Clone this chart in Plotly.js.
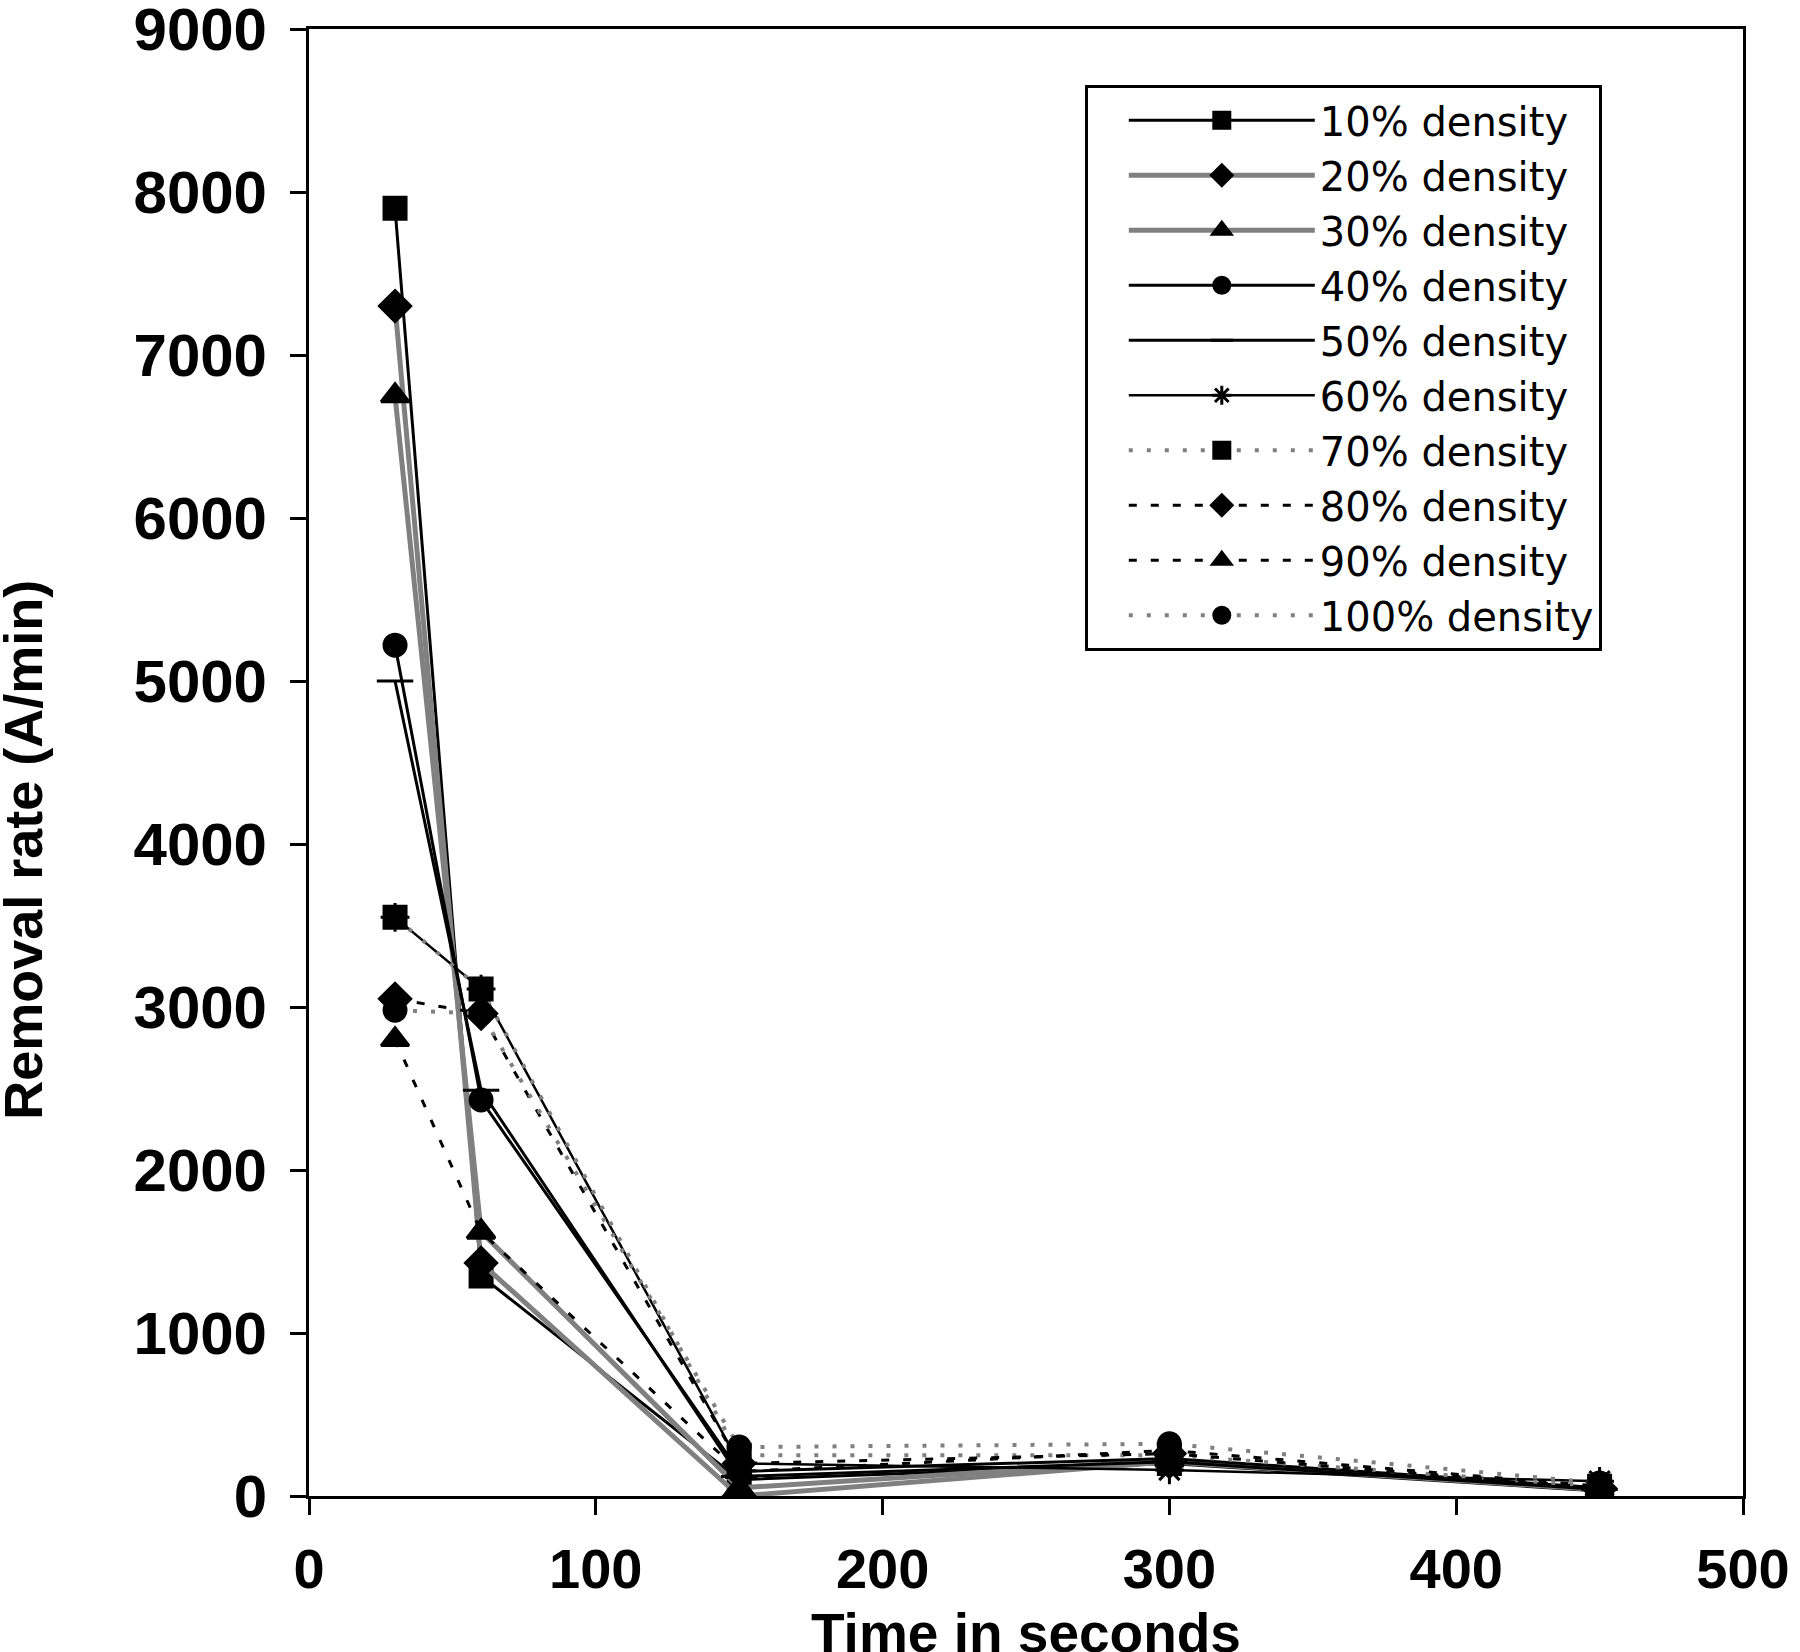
<!DOCTYPE html>
<html>
<head>
<meta charset="utf-8">
<script src="https://cdn.plot.ly/plotly-3.0.1.min.js"></script>
<style>html,body{margin:0;padding:0;background:#fff;}#chart{width:1800px;height:1652px;}</style>
</head>
<body>
<div id="chart"></div>
<script>
const times = [30, 60, 150, 300, 450];
const seriesNames = ['10% density','20% density','30% density','40% density','50% density','60% density','70% density','80% density','90% density','100% density'];
const d10  = [7900, 1350, 100, 200, 30];
const d20  = [7300, 1430, 0, 210, 40];
const d30  = [6750, 1620, 50, 220, 40];
const d40  = [5220, 2430, 150, 230, 50];
const d50  = [5000, 2490, 120, 210, 40];
const d60  = [3550, 3110, 200, 160, 90];
const d70  = [3550, 3110, 250, 250, 60];
const d80  = [3050, 2960, 200, 260, 50];
const d90  = [2800, 1620, 150, 280, 60];
const d100 = [2980, 2960, 300, 320, 80];
const xTicks = [0, 100, 200, 300, 400, 500];
const yTicks = [0, 1000, 2000, 3000, 4000, 5000, 6000, 7000, 8000, 9000];
const xTitle = 'Time in seconds';
const yTitle = 'Removal rate (A/min)';

const values = [d10, d20, d30, d40, d50, d60, d70, d80, d90, d100];
const styles = [
  {color:'#000000', width:3, dash:'solid', symbol:'square', size:22},
  {color:'#808080', width:5, dash:'solid', symbol:'diamond', size:24},
  {color:'#808080', width:5, dash:'solid', symbol:'triangle-up', size:24},
  {color:'#000000', width:3, dash:'solid', symbol:'circle', size:22},
  {color:'#000000', width:3, dash:'solid', symbol:'line-ew', size:26},
  {color:'#000000', width:2.5, dash:'solid', symbol:'asterisk-open', size:24},
  {color:'#808080', width:4, dash:'4px,14px', symbol:'square', size:22},
  {color:'#000000', width:3, dash:'8px,14px', symbol:'diamond', size:24},
  {color:'#000000', width:3, dash:'8px,14px', symbol:'triangle-up', size:24},
  {color:'#808080', width:4, dash:'4px,14px', symbol:'circle', size:22}
];

const traces = values.map((v, i) => ({
  type: 'scatter',
  mode: 'lines+markers',
  name: seriesNames[i],
  x: times,
  y: v,
  line: {color: styles[i].color, width: styles[i].width, dash: styles[i].dash},
  marker: {symbol: styles[i].symbol, size: styles[i].size, color: '#000000',
           line: {color: '#000000', width: 3}}
}));

const fontFam = '"Liberation Sans", Arial, sans-serif';
const legFam = '"DejaVu Sans", sans-serif';
const layout = {
  width: 1800, height: 1652,
  paper_bgcolor: '#ffffff', plot_bgcolor: '#ffffff',
  margin: {l: 309, r: 57, t: 29, b: 156, pad: 0},
  showlegend: true,
  font: {family: fontFam, color: '#000'},
  xaxis: {
    range: [0, 500], tickvals: xTicks, ticktext: xTicks.map(String),
    showgrid: false, zeroline: false,
    showline: true, linecolor: '#000', linewidth: 3, mirror: true,
    ticks: 'outside', ticklen: 16, tickwidth: 3, tickcolor: '#000',
    ticklabelstandoff: 6, ticklabeloverflow: 'allow',
    tickfont: {family: fontFam, size: 56, color: '#000', weight: 'bold'},
    automargin: false
  },
  yaxis: {
    range: [0, 9000], tickvals: yTicks, ticktext: yTicks.map(String),
    showgrid: false, zeroline: false,
    showline: true, linecolor: '#000', linewidth: 3, mirror: true,
    ticks: 'outside', ticklen: 16, tickwidth: 3, tickcolor: '#000',
    ticklabelstandoff: 11, ticklabeloverflow: 'allow',
    tickfont: {family: fontFam, size: 60, color: '#000', weight: 'bold'},
    automargin: false
  },
  annotations: [
    {text: '<b>' + xTitle + '</b>', xref: 'paper', yref: 'paper', x: 0.5, y: -0.0935,
     xanchor: 'center', yanchor: 'middle', showarrow: false,
     font: {family: fontFam, size: 55, color: '#000'}},
    {text: '<b>' + yTitle + '</b>', xref: 'paper', yref: 'paper', x: -0.1995, y: 0.4404,
     xanchor: 'center', yanchor: 'middle', showarrow: false, textangle: -90,
     font: {family: fontFam, size: 54, color: '#000'}}
  ],
  legend: {
    x: 0.541, y: 0.962, xanchor: 'left', yanchor: 'top',
    bgcolor: '#ffffff', bordercolor: '#000', borderwidth: 3,
    font: {family: legFam, size: 40, color: '#000'},
    itemwidth: 186, indentation: 36,
    tracegroupgap: 0
  }
};

Plotly.newPlot('chart', traces, layout, {displayModeBar: false, staticPlot: true});
</script>
</body>
</html>
